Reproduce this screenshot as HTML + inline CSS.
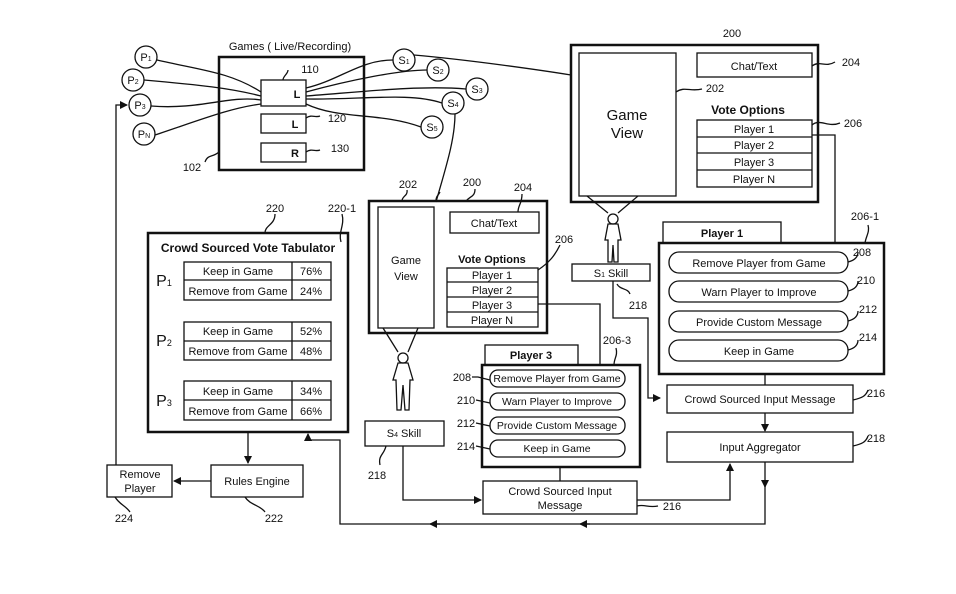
<!DOCTYPE html>
<html><head><style>body{margin:0;background:#fff}svg{display:block}text{font-family:"Liberation Sans",sans-serif;fill:#111}</style></head><body>
<svg width="956" height="594" viewBox="0 0 956 594" xmlns="http://www.w3.org/2000/svg">
<defs><marker id="a" markerWidth="8" markerHeight="8" refX="7" refY="4" orient="auto" markerUnits="userSpaceOnUse"><path d="M0,0 L8,4 L0,8z" fill="#111"/></marker></defs>
<g fill="none" stroke="#111" stroke-width="1.3">
<!-- Games box -->
<rect x="219" y="57" width="145" height="113" stroke-width="2.5"/>
<rect x="261" y="80" width="45" height="26"/>
<rect x="261" y="114" width="45" height="19"/>
<rect x="261" y="143" width="45" height="19"/>
<circle cx="146" cy="57" r="11"/><circle cx="133" cy="80" r="11"/><circle cx="140" cy="105" r="11"/><circle cx="144" cy="134" r="11"/>
<circle cx="404" cy="60" r="11"/><circle cx="438" cy="70" r="11"/><circle cx="477" cy="89" r="11"/><circle cx="453" cy="103" r="11"/><circle cx="432" cy="127" r="11"/>
<path d="M157,60 C200,70 230,72 261,92"/><path d="M144,80 C200,85 230,88 261,96"/><path d="M151,106 C200,110 230,95 261,100"/><path d="M155,135 C200,120 230,108 261,104"/>
<path d="M306,88 C340,80 360,60 393,60"/><path d="M306,92 C350,80 400,70 427,70"/><path d="M306,96 C360,92 420,85 466,89"/><path d="M306,99 C360,100 410,92 442,103"/><path d="M306,104 C340,120 380,112 421,127"/>
<path d="M414,55 C470,60 540,70 571,75"/><path d="M455,114 C455,140 445,170 436,202"/>
<!-- big 200 -->
<rect x="571" y="45" width="247" height="157" stroke-width="2.5"/>
<rect x="579" y="53" width="97" height="143"/>
<rect x="697" y="53" width="115" height="24"/>
<rect x="697" y="120" width="115" height="67"/>
<path d="M697,137H812M697,153H812M697,170H812"/>
<path d="M812,135H835V243"/>
<path d="M812,66 C820,60 825,68 835,62"/><path d="M676,92 C685,86 690,92 702,89"/><path d="M812,125 C820,118 828,128 840,123"/>
<!-- figure 1 -->
<path d="M587,196 L608,213 M638,196 L618,213"/>
<circle cx="613" cy="219" r="5"/>
<path d="M608,224 L605,240 L608,240 L608,262 L612,262 L613,245 L614,262 L618,262 L618,240 L621,240 L618,224 Z"/>
<rect x="572" y="264" width="78" height="17"/>
<path d="M613,281V318H648V398H660" marker-end="url(#a)"/>
<path d="M617,284 C620,290 628,288 630,294"/>
<!-- player 1 -->
<rect x="663" y="222" width="118" height="21"/>
<rect x="659" y="243" width="225" height="131" stroke-width="2.5"/>
<rect x="669" y="252" width="179" height="21" rx="10"/><rect x="669" y="281" width="179" height="21" rx="10"/><rect x="669" y="311" width="179" height="21" rx="10"/><rect x="669" y="340" width="179" height="21" rx="10"/>
<path d="M848,262 C856,260 858,256 858,252M848,291 C856,289 858,285 858,281M848,321 C856,319 858,315 858,311M848,350 C856,348 858,344 858,340"/>
<path d="M865,243 C866,236 870,232 868,225"/>
<path d="M765,374V385"/>
<rect x="667" y="385" width="186" height="28"/>
<path d="M765,413V431" marker-end="url(#a)"/>
<rect x="667" y="432" width="186" height="30"/>
<path d="M853,400 C862,398 866,396 868,390M853,446 C862,444 866,442 868,436"/>
<path d="M765,462V487" marker-end="url(#a)"/><path d="M765,480V524H340V440H308V434" marker-end="url(#a)"/>
<path d="M590,524H580" marker-end="url(#a)"/><path d="M440,524H430" marker-end="url(#a)"/>
<!-- second 200 -->
<rect x="369" y="201" width="178" height="132" stroke-width="2.5"/>
<rect x="378" y="207" width="56" height="121"/>
<rect x="450" y="212" width="89" height="21"/>
<rect x="447" y="268" width="91" height="59"/>
<path d="M447,282H538M447,297H538M447,312H538"/>
<path d="M538,304H600V366"/>
<path d="M538,270 C550,262 555,255 560,245"/>
<path d="M402,201 C402,196 408,196 407,190M436,201 C436,196 438,196 440,192M466,201 C470,196 475,197 475,189M518,212 C518,205 522,204 522,194"/>
<!-- figure 2 -->
<path d="M383,328 L398,352 M418,328 L408,352"/>
<circle cx="403" cy="358" r="5"/>
<path d="M398,363 L393,380 L396,380 L397,410 L401,410 L403,385 L405,410 L409,410 L410,380 L413,380 L408,363 Z"/>
<rect x="365" y="421" width="79" height="25"/>
<path d="M403,446V500H481" marker-end="url(#a)"/>
<path d="M386,446 C384,455 378,455 380,465"/>
<!-- player 3 -->
<rect x="485" y="345" width="93" height="20"/>
<rect x="482" y="365" width="158" height="102" stroke-width="2.5"/>
<rect x="490" y="370" width="135" height="17" rx="8"/><rect x="490" y="393" width="135" height="17" rx="8"/><rect x="490" y="417" width="135" height="17" rx="8"/><rect x="490" y="440" width="135" height="17" rx="8"/>
<path d="M472,377H478 L490,380M476,400 L490,403M476,423 L490,426M476,446 L490,449"/>
<path d="M614,365 C614,358 618,356 616,348"/>
<path d="M560,467V481"/>
<rect x="483" y="481" width="154" height="33"/>
<path d="M637,500H730V464" marker-end="url(#a)"/>
<path d="M637,506 C645,504 648,508 658,506"/>
<!-- tabulator -->
<rect x="148" y="233" width="200" height="199" stroke-width="2.5"/>
<rect x="184" y="262" width="147" height="38"/><path d="M184,280H331M292,262V300"/>
<rect x="184" y="322" width="147" height="38"/><path d="M184,341H331M292,322V360"/>
<rect x="184" y="381" width="147" height="39"/><path d="M184,400H331M292,381V420"/>
<path d="M265,233 C265,225 275,225 275,214M341,242 C338,232 345,225 342,214"/>
<path d="M248,432V463" marker-end="url(#a)"/>
<rect x="211" y="465" width="92" height="32"/>
<path d="M211,481H174" marker-end="url(#a)"/>
<rect x="107" y="465" width="65" height="32"/>
<path d="M116,465V105H127" marker-end="url(#a)"/>
<path d="M115,497 C120,505 125,505 130,512M245,497 C250,505 260,505 265,512"/>
<path d="M219,152 C212,158 208,154 205,162"/>
<path d="M306,118 C312,114 315,118 320,116M306,152 C312,148 315,152 320,150M283,80 C283,76 288,74 288,70"/>
</g>
<g font-size="11" text-anchor="middle">
<text x="290" y="50">Games ( Live/Recording)</text>
<text x="310" y="73">110</text><text x="337" y="122">120</text><text x="340" y="152">130</text><text x="192" y="171">102</text>
<text x="297" y="98" font-weight="bold">L</text><text x="295" y="128" font-weight="bold">L</text><text x="295" y="157" font-weight="bold">R</text>
<text x="146" y="61">P<tspan font-size="7">1</tspan></text><text x="133" y="84">P<tspan font-size="7">2</tspan></text><text x="140" y="109">P<tspan font-size="7">3</tspan></text><text x="144" y="138">P<tspan font-size="7">N</tspan></text>
<text x="404" y="64">S<tspan font-size="7">1</tspan></text><text x="438" y="74">S<tspan font-size="7">2</tspan></text><text x="477" y="93">S<tspan font-size="7">3</tspan></text><text x="453" y="107">S<tspan font-size="7">4</tspan></text><text x="432" y="131">S<tspan font-size="7">5</tspan></text>
<text x="732" y="37">200</text><text x="754" y="70">Chat/Text</text><text x="851" y="66">204</text><text x="715" y="92">202</text>
<text x="627" y="120" font-size="15">Game</text><text x="627" y="138" font-size="15">View</text>
<text x="748" y="114" font-size="12" font-weight="bold">Vote Options</text>
<text x="754" y="133">Player 1</text><text x="754" y="149">Player 2</text><text x="754" y="166">Player 3</text><text x="754" y="183">Player N</text>
<text x="853" y="127">206</text>
<text x="611" y="277">S<tspan font-size="7">1</tspan> Skill</text><text x="638" y="309">218</text>
<text x="722" y="237" font-weight="bold">Player 1</text><text x="865" y="220">206-1</text>
<text x="759" y="267">Remove Player from Game</text><text x="759" y="296">Warn Player to Improve</text><text x="759" y="326">Provide Custom Message</text><text x="759" y="355">Keep in Game</text>
<text x="862" y="256">208</text><text x="866" y="284">210</text><text x="868" y="313">212</text><text x="868" y="341">214</text>
<text x="760" y="403">Crowd Sourced Input Message</text><text x="760" y="451">Input Aggregator</text>
<text x="876" y="397">216</text><text x="876" y="442">218</text>
<text x="408" y="188">202</text><text x="472" y="186">200</text><text x="523" y="191">204</text><text x="564" y="243">206</text>
<text x="494" y="227">Chat/Text</text>
<text x="406" y="264">Game</text><text x="406" y="280">View</text>
<text x="492" y="263" font-weight="bold">Vote Options</text>
<text x="492" y="279">Player 1</text><text x="492" y="294">Player 2</text><text x="492" y="309">Player 3</text><text x="492" y="324">Player N</text>
<text x="404" y="437">S<tspan font-size="7">4</tspan> Skill</text><text x="377" y="479">218</text>
<text x="531" y="359" font-weight="bold">Player 3</text><text x="617" y="344">206-3</text>
<text x="557" y="382" font-size="10.5">Remove Player from Game</text><text x="557" y="405" font-size="10.5">Warn Player to Improve</text><text x="557" y="429" font-size="10.5">Provide Custom Message</text><text x="557" y="452" font-size="10.5">Keep in Game</text>
<text x="462" y="381">208</text><text x="466" y="404">210</text><text x="466" y="427">212</text><text x="466" y="450">214</text>
<text x="560" y="495">Crowd Sourced Input</text><text x="560" y="509">Message</text><text x="672" y="510">216</text>
<text x="275" y="212">220</text><text x="342" y="212">220-1</text>
<text x="248" y="252" font-size="12" font-weight="bold">Crowd Sourced Vote Tabulator</text>
<text x="238" y="275">Keep in Game</text><text x="311" y="275">76%</text><text x="238" y="295">Remove from Game</text><text x="311" y="295">24%</text>
<text x="238" y="335">Keep in Game</text><text x="311" y="335">52%</text><text x="238" y="355">Remove from Game</text><text x="311" y="355">48%</text>
<text x="238" y="395">Keep in Game</text><text x="311" y="395">34%</text><text x="238" y="415">Remove from Game</text><text x="311" y="415">66%</text>
<text x="164" y="286" font-size="16">P<tspan font-size="9">1</tspan></text><text x="164" y="346" font-size="16">P<tspan font-size="9">2</tspan></text><text x="164" y="406" font-size="16">P<tspan font-size="9">3</tspan></text>
<text x="257" y="485">Rules Engine</text><text x="140" y="478">Remove</text><text x="140" y="492">Player</text>
<text x="124" y="522">224</text><text x="274" y="522">222</text>
</g>
</svg>
</body></html>
